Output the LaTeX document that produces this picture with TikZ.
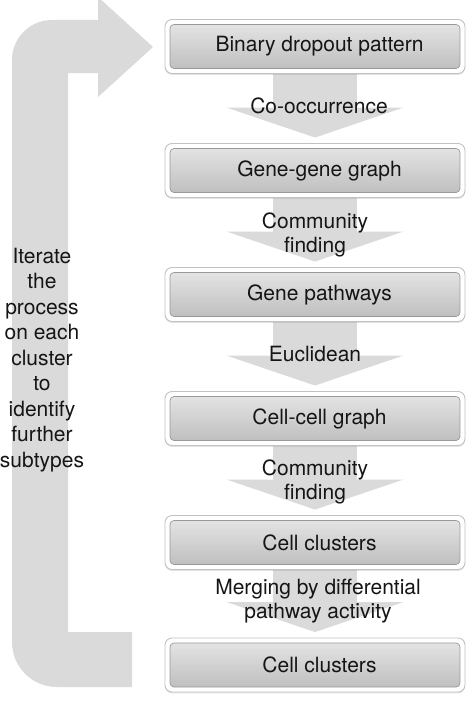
\documentclass[tikz,border=0pt]{standalone}
\usepackage{fontspec}
\setmainfont{TeX Gyre Heros}
\usetikzlibrary{arrows.meta,shadows,calc}
\definecolor{arrowgray}{HTML}{DADADA}
\definecolor{txt}{HTML}{151515}
\pgfdeclarelayer{bg}
\pgfsetlayers{bg,main}
\begin{document}
\begin{tikzpicture}[x=1pt,y=-1pt,
  outerbox/.style={draw=black!24, fill=white, rounded corners=7pt, minimum width=300pt, minimum height=54pt, line width=0.9pt, inner sep=0pt,
     drop shadow={opacity=0.22, shadow xshift=0pt, shadow yshift=-1.4pt}},
  innerbox/.style={draw=black!40, line width=0.7pt, top color=black!11, bottom color=black!25, rounded corners=4pt,
     minimum width=290pt, minimum height=44pt, font=\fontsize{21}{25}\selectfont, text=txt, inner sep=0pt},
  flow/.style={arrowgray, line width=84pt, -{Triangle[width=176pt,length=30pt]}},
  flowlabel/.style={font=\fontsize{21}{24.5}\selectfont, text=txt, align=center, inner sep=0pt},
]
\useasboundingbox (0,0) rectangle (474,701);

% loop-back arrow
\fill[arrowgray] (153,47) -- (98,-3) -- (98,20) -- (52,20)
  .. controls (29.9,20) and (12,37.9) .. (12,60) -- (12,642)
  .. controls (12,666.9) and (32.1,687) .. (57,687) -- (132,687) -- (132,632)
  -- (68,632) -- (68,73) -- (98,73) -- (98,97) -- cycle;
\node[flowlabel, font=\fontsize{21}{25.5}\selectfont] (iter) at (42,360)
  {Iterate\\the\\process\\on each\\cluster\\to\\identify\\further\\subtypes};

% boxes
\foreach \i/\c/\t in {1/46.5/Binary dropout pattern, 2/170.5/Gene-gene graph, 3/294.5/Gene pathways,
                      4/418.5/Cell-cell graph, 5/542.5/Cell clusters, 6/665/Cell clusters}{
  \node[outerbox] (o\i) at (315,\c) {};
  \node[innerbox] (b\i) at (315,\c) {\hspace*{9pt}\t};
}

% connectors
\begin{pgfonlayer}{bg}
\draw[flow] (o1.south) -- ([yshift=5.5pt]o2.north) node[midway, flowlabel, xshift=4pt] (l1) {Co-occurrence};
\draw[flow] (o2.south) -- ([yshift=5.5pt]o3.north) node[midway, flowlabel, yshift=-5pt] (l2) {Community\\finding};
\draw[flow] (o3.south) -- ([yshift=5.5pt]o4.north) node[midway, flowlabel] (l3) {Euclidean};
\draw[flow] (o4.south) -- ([yshift=5.5pt]o5.north) node[midway, flowlabel, yshift=-4pt] (l4) {Community\\finding};
\draw[flow] (o5.south) -- ([yshift=5.5pt]o6.north) node[midway, flowlabel, xshift=3pt] (l5) {Merging by differential\\pathway activity};
\end{pgfonlayer}
\end{tikzpicture}
\end{document}
